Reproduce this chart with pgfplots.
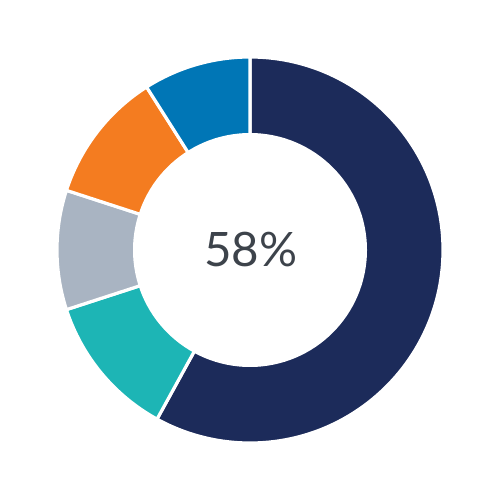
\documentclass[border=0pt]{standalone}
\usepackage{pgfplots}
\usepackage{pgfplotstable}
\pgfplotsset{compat=1.18}
\usepackage{fontspec}
\setmainfont{Lato}
\definecolor{navyc}{HTML}{1C2B5A}
\definecolor{tealc}{HTML}{1DB5B5}
\definecolor{grayc}{HTML}{A9B4C2}
\definecolor{orangec}{HTML}{F47C20}
\definecolor{bluec}{HTML}{0076B6}
\definecolor{txtc}{HTML}{3D434B}
\pgfplotstableread{
value color
58 navyc
12 tealc
10 grayc
11 orangec
9 bluec
}\donutdata
\begin{document}
\begin{tikzpicture}
\useasboundingbox (0,0) rectangle (10cm,10cm);
\begin{axis}[
  at={(0,0)}, anchor=south west,
  scale only axis, width=10cm, height=10cm,
  xmin=0, xmax=500, ymin=0, ymax=500,
  hide axis, clip=false,
]
\pgfplotstablegetrowsof{\donutdata}
\pgfmathtruncatemacro\N{\pgfplotsretval-1}
\gdef\cum{0}
\pgfplotsforeachungrouped \i in {0,...,\N}{
  \pgfplotstablegetelem{\i}{value}\of\donutdata \let\v\pgfplotsretval
  \pgfplotstablegetelem{\i}{color}\of\donutdata \let\c\pgfplotsretval
  \pgfmathsetmacro\a{90-3.6*\cum}
  \pgfmathsetmacro\b{90-3.6*(\cum+\v)}
  \edef\temp{\noexpand\filldraw[fill=\c, draw=white, line width=1.8pt, line join=miter] (axis cs:250,250) -- +(\a:3.86cm) arc[start angle=\a, end angle=\b, radius=3.86cm] -- cycle;}
  \temp
  \pgfmathsetmacro\cum{\cum+\v}
  \global\let\cum\cum
}
\fill[white] (axis cs:250,250) circle[radius=2.34cm];
\node[text=txtc, font=\fontsize{27}{30}\selectfont] at (axis cs:251,250) {58\%};
\end{axis}
\end{tikzpicture}
\end{document}
